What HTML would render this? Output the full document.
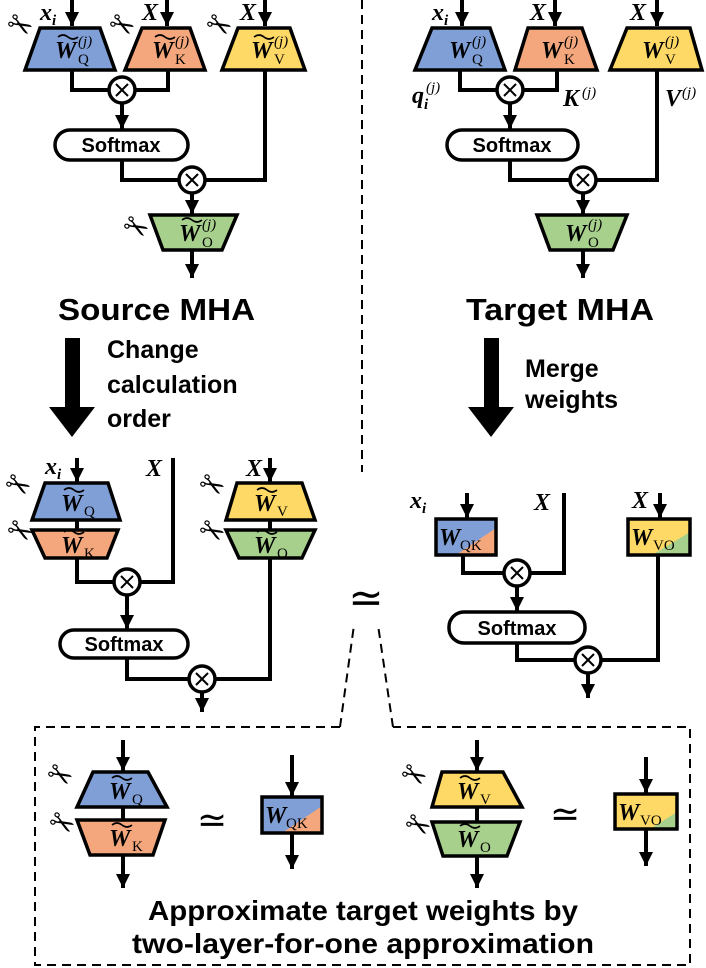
<!DOCTYPE html>
<html><head><meta charset="utf-8"><style>
html,body{margin:0;padding:0;background:#fff}
svg{display:block}
.s{font-family:"Liberation Sans",sans-serif;font-weight:bold}
.m{font-family:"Liberation Serif",serif;font-weight:bold;font-style:italic}
.u{font-family:"Liberation Serif",serif}
.sc{font-family:"DejaVu Sans",sans-serif;font-size:30px}
</style></head><body>
<svg width="706" height="968" viewBox="0 0 706 968" xmlns="http://www.w3.org/2000/svg">
<defs>
<marker id="a" markerUnits="userSpaceOnUse" markerWidth="16" markerHeight="14" refX="14" refY="7" orient="auto"><path d="M0,0 L14,7 L0,14 z" fill="#000"/></marker>
</defs>
<g stroke="#000" stroke-width="4" fill="none">
<line x1="72" y1="0" x2="72" y2="26" marker-end="url(#a)"/>
<line x1="167" y1="0" x2="167" y2="26" marker-end="url(#a)"/>
<line x1="265" y1="0" x2="265" y2="26" marker-end="url(#a)"/>
<path d="M72 70 V90 H109 M168 70 V90 H135 M122 160 V180 H179 M265 70 V180 H205"/>
<line x1="122" y1="103" x2="122" y2="129" marker-end="url(#a)"/>
<line x1="192" y1="193" x2="192" y2="214" marker-end="url(#a)"/>
<line x1="192" y1="250" x2="192" y2="278" marker-end="url(#a)"/>
<line x1="462" y1="0" x2="462" y2="26" marker-end="url(#a)"/>
<line x1="555" y1="0" x2="555" y2="26" marker-end="url(#a)"/>
<line x1="657" y1="0" x2="657" y2="26" marker-end="url(#a)"/>
<path d="M460 70 V90 H497 M557 70 V90 H523 M510 160 V180 H570 M657 70 V180 H596"/>
<line x1="510" y1="103" x2="510" y2="129" marker-end="url(#a)"/>
<line x1="583" y1="193" x2="583" y2="214" marker-end="url(#a)"/>
<line x1="583" y1="250" x2="583" y2="278" marker-end="url(#a)"/>
<line x1="77" y1="458" x2="77" y2="482" marker-end="url(#a)"/>
<line x1="77" y1="520" x2="77" y2="530"/>
<line x1="270" y1="458" x2="270" y2="482" marker-end="url(#a)"/>
<line x1="270" y1="520" x2="270" y2="530"/>
<path d="M173 458 V582 H140 M77 558 V582 H114 M127 658 V679 H189 M270 558 V679 H215"/>
<line x1="127" y1="595" x2="127" y2="629" marker-end="url(#a)"/>
<line x1="202" y1="692" x2="202" y2="712" marker-end="url(#a)"/>
<line x1="467" y1="493" x2="467" y2="518" marker-end="url(#a)"/>
<line x1="660" y1="493" x2="660" y2="518" marker-end="url(#a)"/>
<path d="M564 493 V573 H530 M463 555 V573 H504 M517 643 V660 H575 M658 555 V660 H601"/>
<line x1="517" y1="586" x2="517" y2="611" marker-end="url(#a)"/>
<line x1="588" y1="673" x2="588" y2="698" marker-end="url(#a)"/>
<line x1="123" y1="740" x2="123" y2="771" marker-end="url(#a)"/>
<line x1="123" y1="807" x2="123" y2="820"/>
<line x1="123" y1="855" x2="123" y2="888" marker-end="url(#a)"/>
<line x1="292" y1="755" x2="292" y2="796" marker-end="url(#a)"/>
<line x1="292" y1="833" x2="292" y2="869" marker-end="url(#a)"/>
<line x1="477" y1="740" x2="477" y2="771" marker-end="url(#a)"/>
<line x1="477" y1="807" x2="477" y2="822"/>
<line x1="477" y1="856" x2="477" y2="888" marker-end="url(#a)"/>
<line x1="646" y1="757" x2="646" y2="793" marker-end="url(#a)"/>
<line x1="646" y1="829" x2="646" y2="866" marker-end="url(#a)"/>
</g>

<g stroke="#000" stroke-width="3.5" stroke-linejoin="miter">
<polygon points="40,28 100,28 115,70 25,70" fill="#7f9fd6"/>
<polygon points="142,28 190,28 205,70 125,70" fill="#f4a77c"/>
<polygon points="238,28 290,28 305,70 222,70" fill="#ffd966"/>
<polygon points="150,215 237,215 222,250 163,250" fill="#a8d08d"/>
<polygon points="432,28 490,28 505,70 415,70" fill="#7f9fd6"/>
<polygon points="528,28 582,28 597,70 515,70" fill="#f4a77c"/>
<polygon points="627,28 690,28 702,70 610,70" fill="#ffd966"/>
<polygon points="537,215 627,215 613,250 550,250" fill="#a8d08d"/>
<polygon points="45,483 108,483 120,520 32,520" fill="#7f9fd6"/>
<polygon points="32,530 118,530 107,558 45,558" fill="#f4a77c"/>
<polygon points="237,483 302,483 315,520 226,520" fill="#ffd966"/>
<polygon points="226,530 315,530 302,558 239,558" fill="#a8d08d"/>
<polygon points="93,772 148,772 167,807 77,807" fill="#7f9fd6"/>
<polygon points="77,820 165,820 153,855 90,855" fill="#f4a77c"/>
<polygon points="442,772 503,772 522,807 432,807" fill="#ffd966"/>
<polygon points="432,822 520,822 507,856 443,856" fill="#a8d08d"/>
<g fill="#fff">
<circle cx="122" cy="90" r="13"/><circle cx="192" cy="180" r="13"/>
<circle cx="510" cy="90" r="13"/><circle cx="583" cy="180" r="13"/>
<circle cx="127" cy="582" r="13"/><circle cx="202" cy="679" r="13"/>
<circle cx="517" cy="573" r="13"/><circle cx="588" cy="660" r="13"/>
<rect x="55" y="130" width="133" height="30" rx="15"/>
<rect x="447" y="130" width="131" height="30" rx="15"/>
<rect x="60" y="630" width="128" height="28" rx="14"/>
<rect x="449" y="612" width="136" height="31" rx="15"/>
</g>
</g>
<g>
<rect x="436" y="519" width="60" height="36" fill="#7f9fd6"/><polygon points="456,555 496,528 496,555" fill="#f4a77c"/><rect x="436" y="519" width="60" height="36" fill="none" stroke="#000" stroke-width="3.5"/>
<rect x="628" y="519" width="62" height="36" fill="#ffd966"/><polygon points="652,555 690,532 690,555" fill="#a8d08d"/><rect x="628" y="519" width="62" height="36" fill="none" stroke="#000" stroke-width="3.5"/>
<rect x="262" y="797" width="60" height="36" fill="#7f9fd6"/><polygon points="282,833 322,806 322,833" fill="#f4a77c"/><rect x="262" y="797" width="60" height="36" fill="none" stroke="#000" stroke-width="3.5"/>
<rect x="615" y="794" width="62" height="35" fill="#ffd966"/><polygon points="650,829 677,812 677,829" fill="#a8d08d"/><rect x="615" y="794" width="62" height="35" fill="none" stroke="#000" stroke-width="3.5"/>
</g>
<g stroke="#000" stroke-width="2">
<path d="M116 84 l12 12 M128 84 l-12 12"/><path d="M186 174 l12 12 M198 174 l-12 12"/>
<path d="M504 84 l12 12 M516 84 l-12 12"/><path d="M577 174 l12 12 M589 174 l-12 12"/>
<path d="M121 576 l12 12 M133 576 l-12 12"/><path d="M196 673 l12 12 M208 673 l-12 12"/>
<path d="M511 567 l12 12 M523 567 l-12 12"/><path d="M582 654 l12 12 M594 654 l-12 12"/>
</g>
<g class="s" font-size="20" text-anchor="middle">
<text x="121" y="152">Softmax</text><text x="512" y="152">Softmax</text>
<text x="124" y="651">Softmax</text><text x="517" y="635">Softmax</text>
</g>
<g stroke="#000" stroke-width="2" stroke-dasharray="9 6" fill="none">
<line x1="362" y1="0" x2="362" y2="472"/>
<path d="M340 727 H35 V965 H690 V727 H393"/>
<path d="M340 727 L354 625 M393 727 L378 625"/>
</g>
<text x="366" y="612" font-family="DejaVu Sans,sans-serif" font-size="42" text-anchor="middle">≃</text>
<text x="212" y="832" font-family="DejaVu Sans,sans-serif" font-size="36" text-anchor="middle">≃</text>
<text x="565" y="826" font-family="DejaVu Sans,sans-serif" font-size="36" text-anchor="middle">≃</text>
<path d="M65 338 H80 V407 H95 L72 437 L49 407 H65 Z" fill="#000"/>
<path d="M484 338 H499 V407 H514 L491 437 L468 407 H484 Z" fill="#000"/>
<g class="s">
<text x="58" y="320" font-size="31" textLength="197" lengthAdjust="spacingAndGlyphs">Source MHA</text>
<text x="466" y="320" font-size="31" textLength="188" lengthAdjust="spacingAndGlyphs">Target MHA</text>
<text x="107" y="358" font-size="25">Change</text>
<text x="107" y="393" font-size="25">calculation</text>
<text x="107" y="427" font-size="25">order</text>
<text x="525" y="377" font-size="25">Merge</text>
<text x="525" y="408" font-size="25">weights</text>
<text x="363" y="920" font-size="28" text-anchor="middle" textLength="430" lengthAdjust="spacingAndGlyphs">Approximate target weights by</text>
<text x="363" y="953" font-size="28" text-anchor="middle" textLength="462" lengthAdjust="spacingAndGlyphs">two-layer-for-one approximation</text>
</g>
<g class="m" font-size="24">
<text x="40" y="20">x<tspan font-size="15" dy="5">i</tspan></text>
<text x="142" y="20">X</text><text x="240" y="20">X</text>
<text x="432" y="20">x<tspan font-size="15" dy="5">i</tspan></text>
<text x="530" y="20">X</text><text x="630" y="20">X</text>
<text x="45" y="474">x<tspan font-size="15" dy="5">i</tspan></text>
<text x="146" y="476">X</text><text x="246" y="476">X</text>
<text x="410" y="508">x<tspan font-size="15" dy="5">i</tspan></text>
<text x="534" y="510">X</text><text x="632" y="508">X</text>
<text x="412" y="103">q<tspan font-size="15" dy="6">i</tspan></text>
<text x="563" y="106">K</text><text x="665" y="106">V</text>
</g>
<g class="u" font-size="15" font-style="italic">
<text x="426" y="92">(j)</text><text x="582" y="97">(j)</text><text x="682" y="97">(j)</text>
</g>
<g class="m" font-size="24">
<text x="55" y="58">W</text><text x="152" y="58">W</text><text x="251" y="58">W</text><text x="179" y="241">W</text>
<text x="449" y="58">W</text><text x="541" y="58">W</text><text x="642" y="58">W</text><text x="565" y="241">W</text>
<text x="61" y="511">W</text><text x="61" y="553">W</text><text x="254" y="511">W</text><text x="254" y="553">W</text>
<text x="109" y="799">W</text><text x="109" y="846">W</text><text x="457" y="799">W</text><text x="457" y="847">W</text>
<text x="439" y="545">W</text><text x="631" y="545">W</text><text x="265" y="823">W</text><text x="618" y="820">W</text>
</g>
<g stroke="#000" stroke-width="1.6" fill="none">
<path d="M58 37 q5 -4 10 0 t10 0"/><path d="M155 37 q5 -4 10 0 t10 0"/><path d="M254 37 q5 -4 10 0 t10 0"/><path d="M182 220 q5 -4 10 0 t10 0"/>
<path d="M64 490 q5 -4 10 0 t10 0"/><path d="M64 532 q5 -4 10 0 t10 0"/><path d="M257 490 q5 -4 10 0 t10 0"/><path d="M257 532 q5 -4 10 0 t10 0"/>
<path d="M112 778 q5 -4 10 0 t10 0"/><path d="M112 825 q5 -4 10 0 t10 0"/><path d="M460 778 q5 -4 10 0 t10 0"/><path d="M460 826 q5 -4 10 0 t10 0"/>
</g>
<g class="u" font-size="15">
<text x="78" y="64">Q</text><text x="175" y="64">K</text><text x="274" y="64">V</text><text x="202" y="247">O</text>
<text x="472" y="64">Q</text><text x="564" y="64">K</text><text x="665" y="64">V</text><text x="588" y="247">O</text>
<text x="84" y="516">Q</text><text x="84" y="558">K</text><text x="277" y="516">V</text><text x="277" y="558">O</text>
<text x="132" y="804">Q</text><text x="132" y="851">K</text><text x="480" y="804">V</text><text x="480" y="852">O</text>
<text x="460" y="550">QK</text><text x="653" y="550">VO</text><text x="286" y="828">QK</text><text x="640" y="825">VO</text>
</g>
<g class="u" font-size="15" font-style="italic">
<text x="78" y="46">(j)</text><text x="175" y="46">(j)</text><text x="274" y="46">(j)</text><text x="202" y="229">(j)</text>
<text x="472" y="46">(j)</text><text x="564" y="46">(j)</text><text x="665" y="46">(j)</text><text x="588" y="229">(j)</text>
</g>
<g class="sc">
<text transform="translate(4,28) rotate(30)">✂</text>
<text transform="translate(106,28) rotate(30)">✂</text>
<text transform="translate(203,28) rotate(30)">✂</text>
<text transform="translate(120,230) rotate(30)">✂</text>
<text transform="translate(2,488) rotate(30)">✂</text>
<text transform="translate(4,534) rotate(30)">✂</text>
<text transform="translate(196,488) rotate(30)">✂</text>
<text transform="translate(196,534) rotate(30)">✂</text>
<text transform="translate(44,778) rotate(30)">✂</text>
<text transform="translate(46,826) rotate(30)">✂</text>
<text transform="translate(398,778) rotate(30)">✂</text>
<text transform="translate(402,828) rotate(30)">✂</text>
</g>
</svg>
</body></html>
